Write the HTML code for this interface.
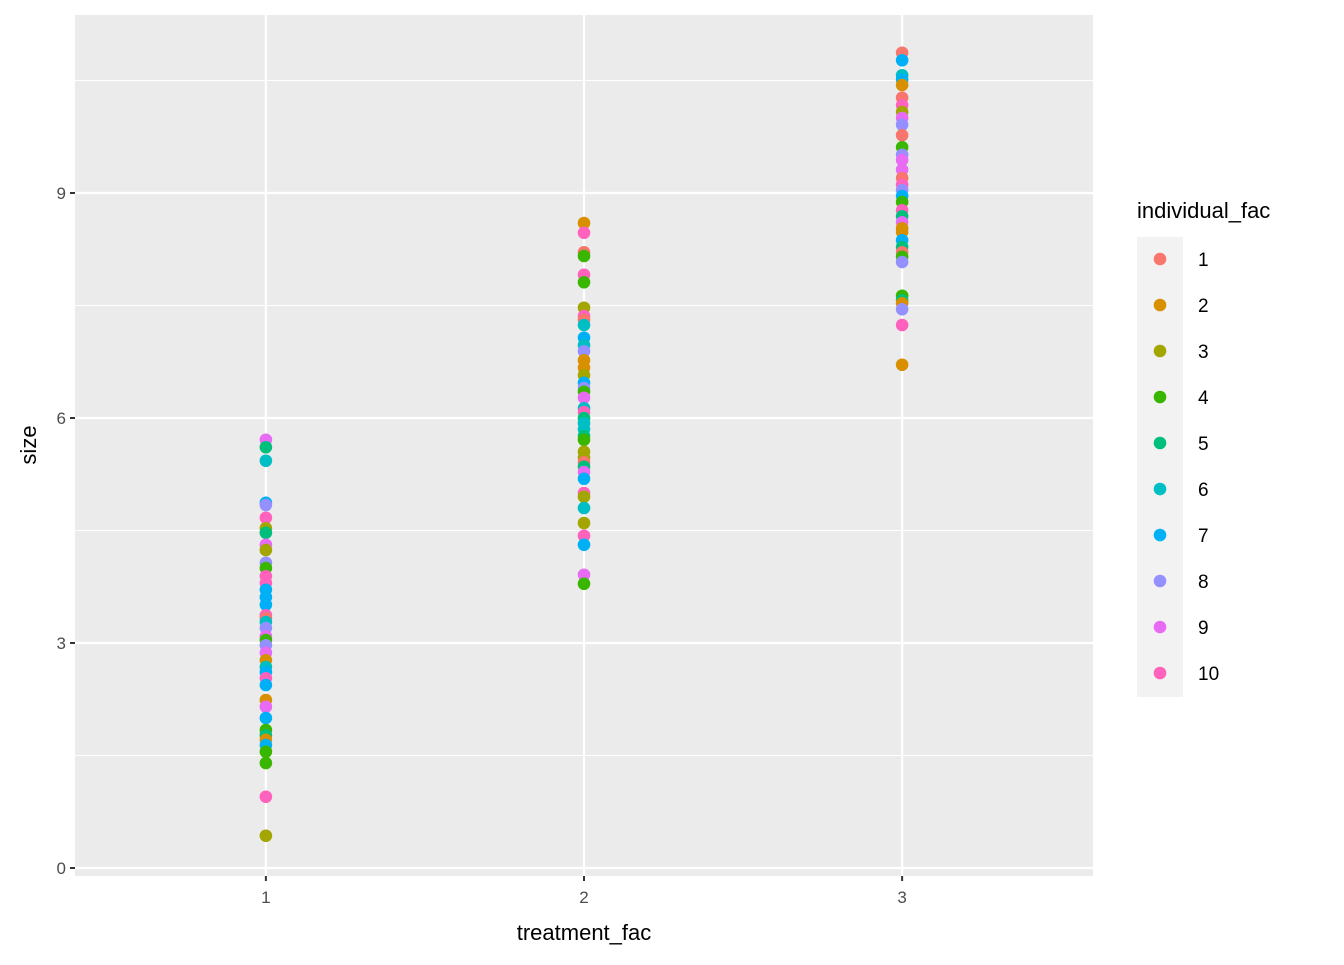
<!DOCTYPE html>
<html><head><meta charset="utf-8"><style>
body{margin:0;background:#fff;font-family:"Liberation Sans",Arial,sans-serif}
</style></head><body>
<svg id="chart" width="1344" height="960" xmlns="http://www.w3.org/2000/svg" font-family="Liberation Sans, Arial, sans-serif"></svg>
<script>
const categories=[1,2,3];
const yTicks=[0,3,6,9];
const legendLabels=["1","2","3","4","5","6","7","8","9","10"];
const colors=["#F8766D","#D89000","#A3A500","#39B600","#00BF7D","#00BFC4","#00B0F6","#9590FF","#E76BF3","#FF62BC"];
const t1Ind=[9,5,6,7,8,10,3,5,9,3,8,4,10,10,7,7,7,10,1,6,8,9,4,8,9,2,6,7,10,7,2,9,7,4,5,2,7,4,4,10,3];
const t1Val=[5.71,5.61,5.43,4.87,4.84,4.67,4.53,4.47,4.31,4.24,4.07,4.0,3.89,3.8,3.71,3.61,3.51,3.37,3.33,3.28,3.2,3.09,3.04,2.97,2.87,2.77,2.68,2.61,2.53,2.44,2.24,2.15,2.0,1.84,1.77,1.71,1.64,1.55,1.4,0.95,0.43];
const t2Ind=[2,10,1,4,10,4,3,10,1,6,7,6,8,2,2,3,7,8,4,9,6,10,5,6,6,5,4,3,3,1,5,9,7,10,3,6,3,10,7,9,4];
const t2Val=[8.6,8.47,8.21,8.16,7.91,7.81,7.47,7.36,7.31,7.24,7.07,6.97,6.89,6.77,6.67,6.57,6.47,6.4,6.35,6.27,6.13,6.08,6.0,5.93,5.85,5.76,5.71,5.55,5.47,5.41,5.35,5.28,5.19,5.0,4.95,4.8,4.6,4.43,4.31,3.91,3.79];
const t3Ind=[1,7,6,7,2,1,10,3,9,8,1,4,8,9,9,1,10,8,7,4,10,5,9,2,2,7,5,1,4,8,4,5,2,8,10,2];
const t3Val=[10.87,10.77,10.57,10.51,10.44,10.27,10.17,10.08,10.0,9.91,9.77,9.61,9.51,9.44,9.31,9.2,9.11,9.04,8.96,8.88,8.77,8.69,8.61,8.53,8.48,8.37,8.28,8.21,8.15,8.08,7.63,7.57,7.53,7.45,7.24,6.71];

const NS="http://www.w3.org/2000/svg";
const svg=document.getElementById('chart');
const PL=75,PR=1093,PT=15,PB=876;
const xs=v=>PL+(v-0.4)/3.2*(PR-PL);
const ys=v=>868-v*75;
function mk(tag,attrs,parent){const e=document.createElementNS(NS,tag);for(const k in attrs)e.setAttribute(k,attrs[k]);(parent||svg).appendChild(e);return e;}
const panel=mk('rect',{x:PL,y:PT,width:PR-PL,height:PB-PT,fill:'#EBEBEB'});


[1.5,4.5,7.5,10.5].forEach(v=>{const l=mk('line',{x1:PL,x2:PR,y1:ys(v),y2:ys(v),stroke:'#fff','stroke-width':1});

});
yTicks.forEach(v=>{const l=mk('line',{x1:PL,x2:PR,y1:ys(v),y2:ys(v),stroke:'#fff','stroke-width':2.2});


const t=mk('line',{x1:PL-5,x2:PL,y1:ys(v),y2:ys(v),stroke:'#333','stroke-width':2});


const tx=mk('text',{x:PL-9,y:ys(v)+6,'text-anchor':'end','font-size':17,fill:'#4d4d4d'});tx.textContent=v;

});
categories.forEach(c=>{const l=mk('line',{x1:xs(c),x2:xs(c),y1:PT,y2:PB,stroke:'#fff','stroke-width':2.2});


const t=mk('line',{x1:xs(c),x2:xs(c),y1:PB,y2:PB+5,stroke:'#333','stroke-width':2});


const tx=mk('text',{x:xs(c),y:PB+27,'text-anchor':'middle','font-size':17,fill:'#4d4d4d'});tx.textContent=c;

});
[[1,t1Ind,t1Val],[2,t2Ind,t2Val],[3,t3Ind,t3Val]].forEach(([c,ind,val])=>{
 ind.forEach((k,i)=>{const p=mk('circle',{cx:xs(c),cy:ys(val[i]),r:6.3,fill:colors[k-1]});
 
 });
});
const xt=mk('text',{x:584,y:940,'text-anchor':'middle','font-size':22,fill:'#000'});xt.textContent='treatment_fac';


const yt=mk('text',{x:36,y:445,'text-anchor':'middle','font-size':22,fill:'#000',transform:'rotate(-90 36 445)'});yt.textContent='size';


const lt=mk('text',{x:1137,y:218,'font-size':22,fill:'#000'});lt.textContent='individual_fac';


const lb=mk('rect',{x:1137,y:237,width:46,height:460,fill:'#F2F2F2'});


legendLabels.forEach((lab,i)=>{const y=259+i*46;
 const c=mk('circle',{cx:1160,cy:y,r:6.3,fill:colors[i]});
 
 
 const t=mk('text',{x:1198,y:y+7,'font-size':19,fill:'#000'});t.textContent=lab;
 
 });
</script>
</body></html>
